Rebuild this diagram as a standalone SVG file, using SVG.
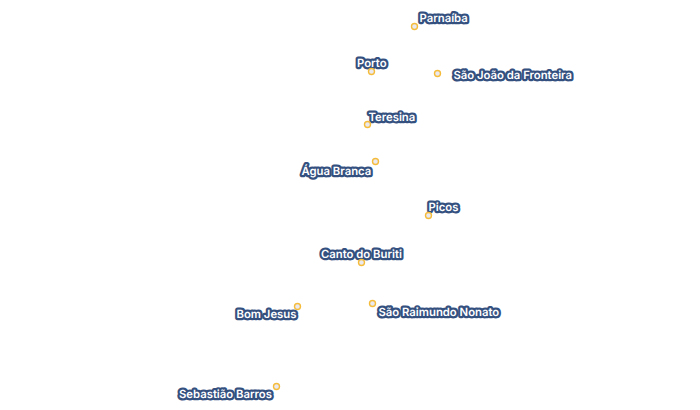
<svg xmlns="http://www.w3.org/2000/svg" width="700" height="410" viewBox="0 0 700 410">
<style>
.d{fill:#e9e9ef;stroke:#f5bc3c;stroke-width:1.4}
text{font-family:"Inter","Liberation Sans",sans-serif;font-size:11.300px;font-weight:600;fill:#fff;stroke:#34507f;stroke-width:4.500px;paint-order:stroke;stroke-linejoin:round;text-rendering:geometricPrecision}
</style>
<rect width="700" height="410" fill="#fff"/>
<g id="connectors"/>
<g id="parnaiba"><text x="419.500" y="21.800">Parnaíba</text><circle class="d" cx="414.500" cy="26.500" r="3"/></g>
<g id="porto"><text x="357" y="66.800">Porto</text><circle class="d" cx="371.500" cy="71.500" r="3"/></g>
<g id="sao-joao"><text x="453.500" y="78.800">São João da Fronteira</text><circle class="d" cx="437.500" cy="73.500" r="3"/></g>
<g id="teresina"><text x="368.500" y="120.800">Teresina</text><circle class="d" cx="367.500" cy="124.500" r="3"/></g>
<g id="agua-branca"><text x="301.500" y="174.800">Água Branca</text><circle class="d" cx="375.500" cy="161.500" r="3"/></g>
<g id="picos"><text x="428.500" y="210.800">Picos</text><circle class="d" cx="428.500" cy="215.500" r="3"/></g>
<g id="canto"><text x="321" y="257.800">Canto do Buriti</text><circle class="d" cx="361.500" cy="262.500" r="3"/></g>
<g id="bom-jesus"><text x="236.500" y="318">Bom Jesus</text><circle class="d" cx="297.500" cy="306.500" r="3"/></g>
<g id="sao-raimundo"><text x="378.500" y="315.800">São Raimundo Nonato</text><circle class="d" cx="372.500" cy="303.500" r="3"/></g>
<g id="sebastiao"><text x="179" y="397.800">Sebastião Barros</text><circle class="d" cx="276.500" cy="386.500" r="3"/></g>
</svg>
